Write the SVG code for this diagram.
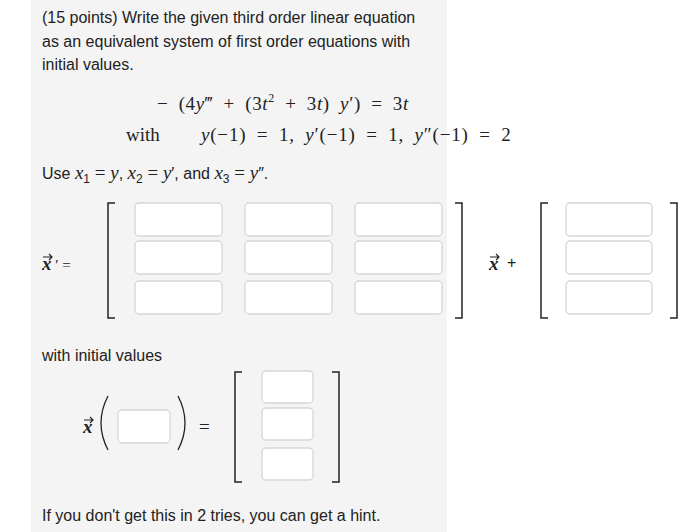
<svg xmlns="http://www.w3.org/2000/svg" width="700" height="532" viewBox="0 0 700 532">
<style>
.t{font-family:"Liberation Sans",Arial,sans-serif;font-size:16px;fill:#222}
.m{font-family:"Liberation Serif","Times New Roman",serif;font-size:19px;fill:#222}
.mi{font-family:"Liberation Serif","Times New Roman",serif;font-size:19px;font-style:italic;fill:#222}
.b{fill:#fff;stroke:#d6d6d6;stroke-width:1.3}
.br{fill:none;stroke:#222;stroke-width:1.5}
.ar{fill:none;stroke:#222;stroke-width:1.2}
</style>
<rect width="700" height="532" fill="#fff"/>
<rect x="31" y="0" width="416" height="532" fill="#f4f4f4"/>
<text class="t" x="42" y="23">(15 points) Write the given third order linear equation</text>
<text class="t" x="42" y="47">as an equivalent system of first order equations with</text>
<text class="t" x="42" y="70">initial values.</text>
<text class="m" x="157" y="110" word-spacing="5" letter-spacing="0.6">−  (4<tspan class="mi">y</tspan>‴ + (3<tspan class="mi">t</tspan><tspan font-size="12" dy="-8">2</tspan><tspan dy="8"> + 3</tspan><tspan class="mi">t</tspan>) <tspan class="mi">y</tspan>′) = 3<tspan class="mi">t</tspan></text>
<text class="m" x="126" y="141">with</text>
<text class="m" x="201" y="141" word-spacing="5" letter-spacing="0.8"><tspan class="mi">y</tspan>(−1) = 1,   <tspan class="mi">y</tspan>′(−1) = 1,   <tspan class="mi">y</tspan>″(−1) = 2</text>
<text class="t" x="42" y="179">Use <tspan class="mi">x</tspan><tspan font-size="12" dy="4">1</tspan><tspan dy="-4" class="m"> = </tspan><tspan class="mi">y</tspan>, <tspan class="mi">x</tspan><tspan font-size="12" dy="4">2</tspan><tspan dy="-4" class="m"> = </tspan><tspan class="mi">y</tspan>′, and <tspan class="mi">x</tspan><tspan font-size="12" dy="4">3</tspan><tspan dy="-4" class="m"> = </tspan><tspan class="mi">y</tspan>″.</text>
<text class="m" x="42" y="270" font-weight="bold" font-style="italic">x<tspan font-weight="normal" font-style="normal" font-size="15"> ′ =</tspan></text>
<path class="ar" d="M43 257 h9 m-3 -3 l3 3 -3 3"/>
<path class="br" d="M115 203 h-7 v115 h7 M455 203 h7 v115 h-7"/>
<g>
<rect class="b" x="135" y="203" width="87" height="33" rx="4"/><rect class="b" x="245" y="203" width="87" height="33" rx="4"/><rect class="b" x="355" y="203" width="87" height="33" rx="4"/>
<rect class="b" x="135" y="241" width="87" height="33" rx="4"/><rect class="b" x="245" y="241" width="87" height="33" rx="4"/><rect class="b" x="355" y="241" width="87" height="33" rx="4"/>
<rect class="b" x="135" y="281" width="87" height="33" rx="4"/><rect class="b" x="245" y="281" width="87" height="33" rx="4"/><rect class="b" x="355" y="281" width="87" height="33" rx="4"/>
</g>
<text class="m" x="489" y="270" font-weight="bold" font-style="italic">x</text>
<path class="ar" d="M490 257 h9 m-3 -3 l3 3 -3 3"/>
<text class="t" x="507" y="268" font-size="13">+</text>
<path class="br" d="M548 203 h-7 v115 h7 M670 203 h7 v115 h-7"/>
<rect class="b" x="566" y="203" width="86" height="33" rx="4"/>
<rect class="b" x="566" y="241" width="86" height="33" rx="4"/>
<rect class="b" x="566" y="281" width="86" height="33" rx="4"/>
<text class="t" x="42" y="361">with initial values</text>
<text class="m" x="83" y="433" font-weight="bold" font-style="italic">x</text>
<path class="ar" d="M84 420 h9 m-3 -3 l3 3 -3 3"/>
<path d="M108 396 q-14 27 0 54 M178 396 q14 27 0 54" fill="none" stroke="#222" stroke-width="1.3"/>
<rect class="b" x="118" y="410" width="52" height="33" rx="4"/>
<text class="m" x="199" y="433" fill="#666">=</text>
<path class="br" d="M242 372 h-7 v110 h7 M332 372 h7 v110 h-7"/>
<rect class="b" x="262" y="371" width="51" height="32" rx="4"/>
<rect class="b" x="262" y="408" width="51" height="32" rx="4"/>
<rect class="b" x="262" y="448" width="51" height="32" rx="4"/>
<text class="t" x="42" y="521">If you don't get this in 2 tries, you can get a hint.</text>
</svg>
